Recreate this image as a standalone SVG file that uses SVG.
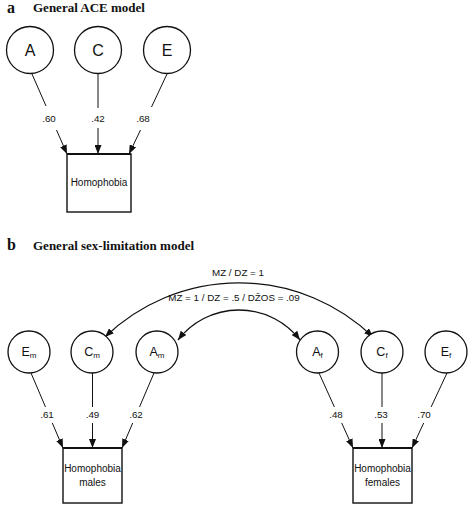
<svg xmlns="http://www.w3.org/2000/svg" width="474" height="518" viewBox="0 0 474 518">
<style>
.bg{fill:#fff}
.title{font-family:"Liberation Serif","Times New Roman",serif;font-weight:bold;font-size:13px;fill:#111}
.tl{font-family:"Liberation Serif","Times New Roman",serif;font-weight:bold;font-size:16px;fill:#111}
.lat circle{fill:#fff;stroke:#111;stroke-width:1.3}
.big{font-family:"Liberation Sans",Arial,sans-serif;font-size:16px;fill:#111;text-anchor:middle}
.mid{font-family:"Liberation Sans",Arial,sans-serif;font-size:12.5px;fill:#111;text-anchor:middle}
.box rect{fill:#fff;stroke:#111;stroke-width:1.4}
.box line{stroke:#111;stroke-width:2.2}
.bt{font-family:"Liberation Sans",Arial,sans-serif;font-size:10px;fill:#111;text-anchor:middle}
.lab{font-family:"Liberation Sans",Arial,sans-serif;font-size:9.8px;fill:#111;text-anchor:middle}
.con{fill:none;stroke:#111;stroke-width:1;marker-end:url(#ah)}
.arc{fill:none;stroke:#111;stroke-width:1.3;marker-start:url(#ah);marker-end:url(#ah)}
</style>
<defs>
<marker id="ah" markerUnits="userSpaceOnUse" markerWidth="9" markerHeight="7" refX="9" refY="3.5" orient="auto-start-reverse">
<path d="M0,0 L9,3.5 L0,7 z" fill="#111"/>
</marker>
</defs>
<rect class="bg" x="0" y="0" width="474" height="518"/>

<text class="tl" x="7" y="13">a</text>
<text class="title" x="33" y="12">General ACE model</text>
<text class="tl" x="7" y="250">b</text>
<text class="title" x="33" y="250">General sex-limitation model</text>

<g id="connectors">
<path class="con" d="M32,74 L46,106 M56.5,130 L67,154"/>
<path class="con" d="M98,74 L98,108 M98,128 L98,154"/>
<path class="con" d="M167,74 L151.5,107 M140.5,130 L129,154"/>
<text class="lab" x="49" y="122">.60</text>
<text class="lab" x="98" y="122">.42</text>
<text class="lab" x="143" y="122">.68</text>

<path class="con" d="M31,373 L45.5,407 M52.3,423 L63,448"/>
<path class="con" d="M92.5,373 L92.5,407 M92.5,423 L92.5,448"/>
<path class="con" d="M154,373 L139.5,407 M132.7,423 L122,448"/>
<path class="con" d="M319,373 L334.4,407 M341.7,423 L353,448"/>
<path class="con" d="M382,373 L382,407 M382,423 L382,448"/>
<path class="con" d="M447,373 L431.1,407 M423.7,423 L412,448"/>
<text class="lab" x="47" y="418">.61</text>
<text class="lab" x="92.5" y="418">.49</text>
<text class="lab" x="136" y="418">.62</text>
<text class="lab" x="336" y="418">.48</text>
<text class="lab" x="381" y="418">.53</text>
<text class="lab" x="424" y="418">.70</text>

<path class="arc" d="M105,337 A193,193 0 0 1 373,337"/>
<path class="arc" d="M178,340 A77,77 0 0 1 300,340"/>
<text class="lab" x="238" y="276">MZ / DZ = 1</text>
<text class="lab" x="234" y="301">MZ = 1 / DZ = .5 / DẐOS = .09</text>
</g>

<g id="A" class="lat"><circle cx="30" cy="50" r="23.5"/><text class="big" x="30" y="55.5">A</text></g>
<g id="C" class="lat"><circle cx="98" cy="50" r="23.5"/><text class="big" x="98" y="55.5">C</text></g>
<g id="E" class="lat"><circle cx="167" cy="50" r="23.5"/><text class="big" x="167" y="55.5">E</text></g>
<g id="homophobia" class="box"><rect x="67" y="154" width="64" height="58"/><line x1="67" y1="154" x2="131" y2="154"/><text class="bt" x="99" y="186" font-size="10.4">Homophobia</text></g>

<g id="Em" class="lat"><circle cx="29" cy="352" r="21"/><text class="mid" x="29" y="356">E<tspan font-size="8" dy="2">m</tspan></text></g>
<g id="Cm" class="lat"><circle cx="92" cy="352" r="21"/><text class="mid" x="92" y="356">C<tspan font-size="8" dy="2">m</tspan></text></g>
<g id="Am" class="lat"><circle cx="157" cy="352" r="21"/><text class="mid" x="157" y="356">A<tspan font-size="8" dy="2">m</tspan></text></g>
<g id="Af" class="lat"><circle cx="317.5" cy="352" r="21"/><text class="mid" x="317.5" y="356">A<tspan font-size="8" dy="2">f</tspan></text></g>
<g id="Cf" class="lat"><circle cx="382" cy="352" r="21"/><text class="mid" x="382" y="356">C<tspan font-size="8" dy="2">f</tspan></text></g>
<g id="Ef" class="lat"><circle cx="446" cy="352" r="21"/><text class="mid" x="446" y="356">E<tspan font-size="8" dy="2">f</tspan></text></g>

<g id="males" class="box"><rect x="63" y="448" width="59" height="55"/><line x1="63" y1="448" x2="122" y2="448"/><text class="bt" x="92.5" y="472">Homophobia</text><text class="bt" x="92.5" y="486">males</text></g>
<g id="females" class="box"><rect x="353" y="448" width="59" height="55"/><line x1="353" y1="448" x2="412" y2="448"/><text class="bt" x="382.5" y="472">Homophobia</text><text class="bt" x="382.5" y="486">females</text></g>
</svg>
